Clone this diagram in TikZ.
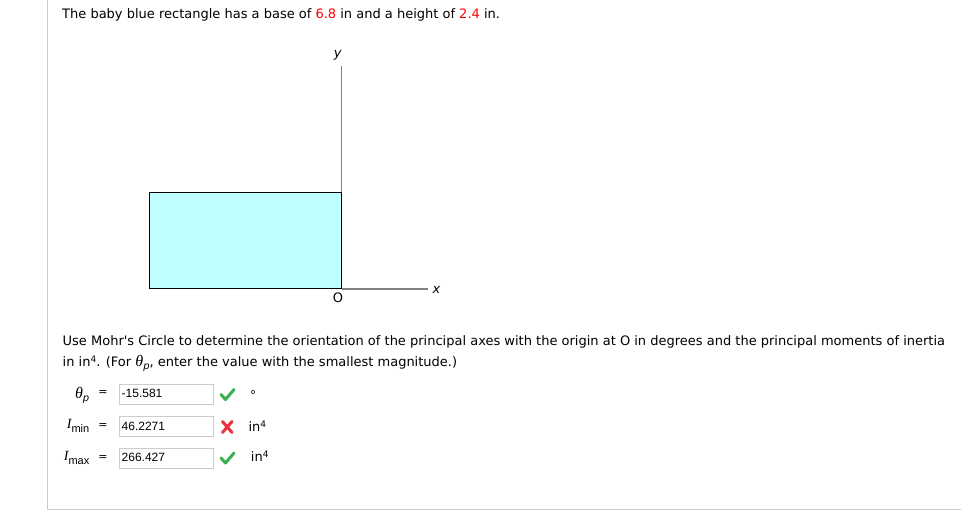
\documentclass[tikz,border=0pt]{standalone}
\usepackage{fontspec}
\setmainfont{DejaVu Sans}
\newfontfamily\arialf{Liberation Sans}
\newfontfamily\timesf{Liberation Serif}
\definecolor{babyblue}{RGB}{191,255,255}
\definecolor{panelgray}{RGB}{204,204,204}
\definecolor{axisgray}{RGB}{128,128,128}
\definecolor{okgreen}{RGB}{60,175,80}
\definecolor{badred}{RGB}{235,50,60}
\definecolor{qred}{RGB}{255,0,0}
\newcommand{\supfour}{\raisebox{4.5pt}{\fontsize{9}{9}\selectfont 4}}
\begin{document}
\begin{tikzpicture}[x=1pt,y=-1pt,
  txt/.style={inner sep=0pt, anchor=base west, font=\fontsize{13}{15}\selectfont},
  lbl/.style={inner sep=0pt, anchor=base east},
  axis/.style={draw=axisgray, line width=1.5pt},
  answerbox/.style={draw=panelgray, line width=1pt, minimum width=94pt, minimum height=20pt, inner sep=0pt, anchor=north west},
  boxtxt/.style={inner sep=0pt, anchor=base west, font=\arialf\fontsize{12}{12}\selectfont},
  okmark/.style={draw=okgreen, line width=3pt, line cap=round, line join=round},
  badmark/.style={draw=badred, line width=3pt, line cap=round}]
\useasboundingbox (0,0) rectangle (961,532);
\fill[white] (0,0) rectangle (961,532);
\draw[draw=panelgray, line width=1.5pt] (47.5,0) -- (47.5,509.5) -- (961,509.5);

\node[txt] (title) at (62,19) {The baby blue rectangle has a base of \textcolor{qred}{6.8} in and a height of \textcolor{qred}{2.4} in.};

% figure
\coordinate (O) at (341.5,289);
\coordinate (ytop) at (341.5,66.5);
\coordinate (xend) at (428,289);
\draw[axis] (O) -- (ytop);
\draw[axis] (O) -- (xend);
\node[draw=black, line width=1pt, fill=babyblue, minimum width=192pt, minimum height=96pt, inner sep=0pt, anchor=south east] (rect) at (O) {};
\node[inner sep=0pt, font=\itshape\fontsize{13}{15}\selectfont] (ylab) at (337.7,55.5) {y};
\node[inner sep=0pt, font=\itshape\fontsize{13}{15}\selectfont] (xlab) at (436.5,289.5) {x};
\node[inner sep=0pt, font=\fontsize{13}{15}\selectfont] (olab) at (338,298) {O};

% question
\node[txt] (q1) at (62.5,345) {Use Mohr\textquotesingle s Circle to determine the orientation of the principal axes with the origin at O in degrees and the principal moments of inertia};
\node[txt] (q2) at (62.5,366.5) {in in\supfour. (For {\timesf\itshape\fontsize{16}{16}\selectfont θ}\raisebox{-3pt}{\itshape\fontsize{10}{10}\selectfont p}, enter the value with the smallest magnitude.)};

% row 1
\node[lbl] (thlab) at (89.5,398) {{\timesf\itshape\fontsize{16}{16}\selectfont θ}\raisebox{-3pt}{\itshape\fontsize{10}{10}\selectfont p}};
\node[inner sep=0pt, font=\fontsize{11}{11}\selectfont] (eq1) at (103,393) {=};
\node[answerbox] (box1) at (118.5,383.5) {};
\node[boxtxt] (v1) at (121.5,397.8) {-15.581};
\draw[okmark] (221,394.5) -- (225.5,399.5) -- (234,389.5);
\node[inner sep=0pt, anchor=base west, font=\fontsize{12}{12}\selectfont] (deg) at (250,399.5) {°};

% row 2
\node[lbl] (iminlab) at (89.5,428.5) {{\timesf\itshape\fontsize{14}{14}\selectfont I}\raisebox{-4pt}{\arialf\fontsize{11}{11}\selectfont min}};
\node[inner sep=0pt, font=\fontsize{11}{11}\selectfont] (eq2) at (103,425.5) {=};
\node[answerbox] (box2) at (118.5,415.8) {};
\node[boxtxt] (v2) at (121.5,430.2) {46.2271};
\draw[badmark] (222.5,421.5) -- (232,432.5);
\draw[badmark] (232,421.5) -- (222.5,432.5);
\node[inner sep=0pt, anchor=base west, font=\fontsize{13}{13}\selectfont] (u2) at (248.3,431.7) {in\supfour};

% row 3
\node[lbl] (imaxlab) at (89.5,460) {{\timesf\itshape\fontsize{14}{14}\selectfont I}\raisebox{-4pt}{\arialf\fontsize{11}{11}\selectfont max}};
\node[inner sep=0pt, font=\fontsize{11}{11}\selectfont] (eq3) at (103,457.5) {=};
\node[answerbox] (box3) at (118.5,447.5) {};
\node[boxtxt] (v3) at (121.5,461.8) {266.427};
\draw[okmark] (221,458) -- (225.5,463) -- (234,453);
\node[inner sep=0pt, anchor=base west, font=\fontsize{13}{13}\selectfont] (u3) at (250.7,461.7) {in\supfour};
\end{tikzpicture}
\end{document}
